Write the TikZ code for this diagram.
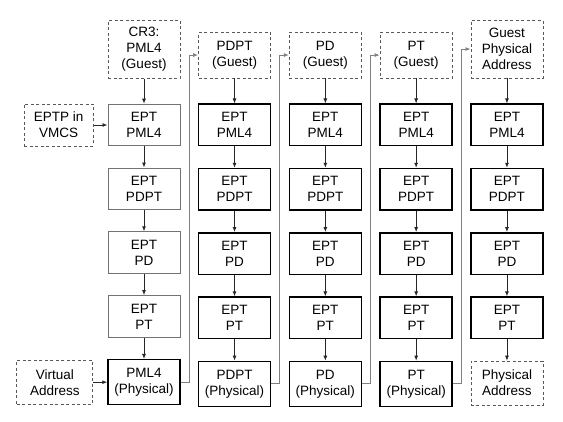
\documentclass[tikz,border=0pt]{standalone}
\usepackage{fontspec}
\setmainfont{Liberation Sans}
\usetikzlibrary{positioning,arrows.meta}

\begin{document}
\begin{tikzpicture}[node distance={21.3pt and 17.3pt},
    every node/.style={align=center, inner sep=0pt, font=\fontsize{13.5}{16}\selectfont},
    ept/.style={draw, line width=1.5pt, minimum width=72pt, minimum height=41.5pt},
    eptgray/.style={ept, draw=black!55, line width=1pt},
    phys/.style={ept, minimum height=45pt},
    guest/.style={draw=black!65, line width=0.9pt, dash pattern=on 3pt off 2.5pt, minimum width=72pt, minimum height=46pt},
    down/.style={-{Latex[length=5pt,width=4pt]}, line width=0.9pt, black!85},
    link/.style={down, black!50}]
    \useasboundingbox (0,0) rectangle (563pt,-422pt);
    % first column
    \node[eptgray] (11) at (144pt,-125pt) {EPT\\PML4};
    \node[eptgray] (12) [below=of 11] {EPT\\PDPT};
    \node[eptgray] (13) [below=of 12] {EPT\\PD};
    \node[eptgray] (14) [below=of 13] {EPT\\PT};
    \node[phys] (15) [below=of 14] {PML4\\(Physical)};
    % the other EPT walks
    \foreach \c [count=\p] in {2,3,4,5} {
      \node[ept] (\c1) [right=of \p1] {EPT\\PML4};
      \node[ept] (\c2) [below=of \c1] {EPT\\PDPT};
      \node[ept] (\c3) [below=of \c2] {EPT\\PD};
      \node[ept] (\c4) [below=of \c3] {EPT\\PT};
    }
    \node[phys] (25) [below=of 24] {PDPT\\(Physical)};
    \node[phys] (35) [below=of 34] {PD\\(Physical)};
    \node[phys] (45) [below=of 44] {PT\\(Physical)};
    \node[guest, minimum height=44pt] (55) [below=of 54] {Physical\\Address};
    % guest tables
    \node[guest, minimum height=58pt] (10) [above=25pt of 11] {CR3:\\PML4\\(Guest)};
    \node[guest] (20) [above=25pt of 21] {PDPT\\(Guest)};
    \node[guest] (30) [above=25pt of 31] {PD\\(Guest)};
    \node[guest] (40) [above=25pt of 41] {PT\\(Guest)};
    \node[guest, minimum height=58pt] (50) [above=25pt of 51] {Guest\\Physical\\Address};
    % inputs
    \node[guest, minimum width=69pt, minimum height=42pt] (01) [left=14pt of 11] {EPTP in\\VMCS};
    \node[guest, minimum width=76pt, minimum height=44pt] (05) [left=14pt of 15] {Virtual\\Address};
    \draw[down] (01) -- (11);
    \draw[down] (05) -- (15);
    \foreach \c in {1,...,5}
      \foreach \r [count=\s from 1] in {0,...,4}
        \draw[down] (\c\r) -- (\c\s);
    \foreach \c [count=\n from 2] in {1,...,4}
      \draw[link] (\c5.east) -- ++(8.5pt,0) |- (\n0.west);
\end{tikzpicture}
\end{document}
